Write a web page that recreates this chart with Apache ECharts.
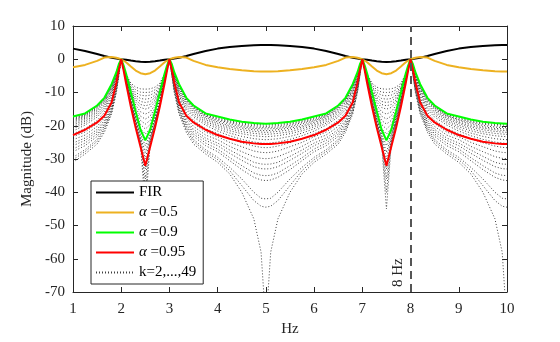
<!DOCTYPE html>
<html>
<head>
<meta charset="utf-8">
<title>Magnitude response</title>
<script src="https://cdn.jsdelivr.net/npm/echarts/dist/echarts.min.js"></script>
<style>
  html, body { margin: 0; padding: 0; background: #fff; }
  #chart { width: 560px; height: 342px; }
</style>
</head>
<body>
<div id="chart"></div>
<script>
// The response repeats every 5 Hz and mirrors about 2.5 Hz,
// so every curve is read on 2.5..5 Hz only and unfolded onto 1..10 Hz.
var baseHz = [2.5, 2.6, 2.7, 2.8, 2.9, 2.95, 3, 3.05, 3.1, 3.2, 3.35, 3.5, 3.75, 4, 4.25, 4.5, 4.75, 4.9, 5];

var firDb  = [-0.8, -0.75, -0.6, -0.4, -0.15, -0.07, 0, 0.1, 0.2, 0.45, 1.0, 1.6, 2.5, 3.2, 3.7, 4.0, 4.2, 4.25, 4.25];
var a05Db  = [-4.5, -4.2, -3.4, -2.2, -0.9, -0.45, 0, 0.25, 0.45, 0.65, 0.5, -0.5, -1.7, -2.4, -2.9, -3.3, -3.6, -3.7, -3.7];
var a09Db  = [-24.4, -21.2, -15.7, -10.0, -4.3, -1.9, 0, -1.5, -3.9, -7.5, -11.6, -13.9, -16.3, -17.2, -18.1, -18.8, -19.2, -19.3, -19.4];
var a095Db = [-32.0, -26.3, -20.6, -14.3, -7.2, -3.4, 0, -3.2, -7.0, -13.0, -17.0, -19.0, -21.2, -22.8, -23.9, -24.8, -25.3, -25.5, -25.5];

// dotted family k=2..49 (a subset of the curves)
var kCurvesDb = [
  [-9.0, -8.9, -8.4, -7.2, -4.4, -2.1, 0, -1.6, -4.0, -7.7, -11.8, -14.1, -16.6, -17.6, -18.5, -19.2, -19.6, -19.7, -19.8],
  [-10, -9.9, -9.2, -7.7, -4.5, -2.1, 0, -1.65, -4.1, -7.8, -11.9, -14.2, -16.7, -17.9, -18.8, -19.5, -20.0, -20.1, -20.2],
  [-11, -10.8, -10.0, -8.2, -4.6, -2.1, 0, -1.7, -4.2, -8.0, -12.1, -14.4, -16.9, -18.2, -19.1, -19.9, -20.4, -20.5, -20.6],
  [-12, -11.8, -10.8, -8.6, -4.7, -2.2, 0, -1.8, -4.4, -8.3, -12.3, -14.6, -17.1, -18.5, -19.5, -20.3, -20.8, -20.9, -21.0],
  [-13, -12.7, -11.5, -9.0, -4.8, -2.2, 0, -1.9, -4.6, -8.6, -12.6, -14.9, -17.4, -18.9, -20.0, -20.7, -21.2, -21.4, -21.5],
  [-14, -13.6, -12.2, -9.4, -4.9, -2.2, 0, -2.0, -4.8, -9.0, -13.0, -15.3, -17.8, -19.3, -20.4, -21.2, -21.7, -21.9, -22.0],
  [-15, -14.5, -12.9, -9.8, -5.0, -2.3, 0, -2.1, -5.0, -9.4, -13.5, -15.7, -18.2, -19.8, -20.9, -21.8, -22.3, -22.5, -22.6],
  [-16.5, -15.8, -13.8, -10.3, -5.1, -2.3, 0, -2.2, -5.3, -9.9, -14.0, -16.2, -18.7, -20.3, -21.5, -22.4, -23.0, -23.2, -23.3],
  [-18, -17.1, -14.7, -10.8, -5.2, -2.4, 0, -2.4, -5.6, -10.4, -14.6, -16.8, -19.2, -20.9, -22.2, -23.2, -23.9, -24.1, -24.2],
  [-19.5, -18.4, -15.5, -11.2, -5.3, -2.4, 0, -2.6, -6.0, -11.0, -15.2, -17.4, -19.8, -21.6, -23.0, -24.1, -24.9, -25.2, -25.3],
  [-21, -19.6, -16.3, -11.6, -5.4, -2.5, 0, -2.9, -6.6, -11.7, -16.0, -18.4, -20.9, -22.4, -23.9, -25.1, -26.1, -26.5, -26.6],
  [-22.5, -20.8, -17.0, -12.0, -5.5, -2.5, 0, -3.2, -7.1, -12.3, -16.8, -19.3, -21.9, -23.3, -25.0, -26.3, -27.6, -28.0, -28.1],
  [-24, -21.8, -17.6, -12.3, -5.7, -2.6, 0, -3.5, -7.6, -13.0, -17.6, -20.2, -22.8, -24.2, -26.2, -27.8, -29.3, -29.8, -29.9],
  [-26, -22.5, -17.8, -12.5, -5.8, -2.7, 0, -3.8, -8.0, -13.6, -18.4, -21.1, -23.7, -25.2, -27.3, -29.2, -31.0, -31.5, -31.6],
  [-28, -23.2, -18.2, -12.8, -6.0, -2.8, 0, -4.0, -8.3, -14.1, -19.0, -21.8, -24.4, -26.0, -28.3, -30.4, -32.3, -32.9, -33.0],
  [-30, -23.8, -18.6, -13.1, -6.2, -2.9, 0, -4.2, -8.6, -14.6, -19.6, -22.5, -25.2, -27.0, -29.6, -32.0, -34.2, -34.9, -35.0],
  [-33, -24.3, -19.0, -13.4, -6.4, -3.0, 0, -4.4, -9.0, -15.1, -20.2, -23.2, -26.0, -27.8, -30.5, -33.2, -35.5, -36.3, -36.5],
  [-36, -24.8, -19.3, -13.6, -6.6, -3.1, 0, -4.6, -9.3, -15.6, -20.8, -24.1, -27.2, -29.5, -32.5, -36.0, -40.0, -41.8, -42.0],
  [-40, -25.2, -19.6, -13.8, -6.8, -3.2, 0, -4.8, -9.6, -16.0, -21.3, -24.7, -27.8, -30.2, -33.5, -38.0, -42.5, -44.2, -44.5],
  [-45, -25.6, -19.9, -14.0, -7.0, -3.3, 0, -5.0, -10.0, -16.5, -22.0, -25.5, -28.5, -31.0, -34.5, -40.0, -48.0, -58.0, -80]
];

var markerHz = 8;
var legendNames = ['FIR', 'α =0.5', 'α =0.9', 'α =0.95', 'k=2,...,49'];

var fontFamily = '"Liberation Serif", "Times New Roman", serif';
var axisColor = '#262626';

// unfold the 2.5..5 Hz segment onto 1..10 Hz
function unfold(vals) {
	var pts = [], n = baseHz.length, i;
	for (i = n - 1; i >= 0; i--) {
		if (5 - baseHz[i] >= 1) pts.push([5 - baseHz[i], vals[i]]);
	}
	for (i = 1; i < n; i++) pts.push([baseHz[i], vals[i]]);
	for (i = n - 2; i >= 0; i--) pts.push([10 - baseHz[i], vals[i]]);
	for (i = 1; i < n; i++) pts.push([5 + baseHz[i], vals[i]]);
	return pts;
}

function curve(name, vals, color, width, type) {
	return {
		name: name,
		type: 'line',
		data: unfold(vals),
		symbol: 'none',
		showSymbol: false,
		smooth: false,
		silent: true,
		lineStyle: { color: color, width: width, type: type || 'solid' },
		itemStyle: { color: color }
	};
}

function axisBase(isX, showLabel) {
	return {
		type: 'value',
		min: isX ? 1 : -70,
		max: isX ? 10 : 10,
		interval: isX ? 1 : 10,
		axisLine: { show: true, onZero: false, lineStyle: { color: axisColor, width: 1 } },
		axisTick: { show: true, inside: true, length: 5, lineStyle: { color: axisColor } },
		axisLabel: { show: showLabel, margin: isX ? 10 : 8, fontFamily: fontFamily, fontSize: 15, color: axisColor },
		splitLine: { show: false }
	};
}

var chart = echarts.init(document.getElementById('chart'), null, { renderer: 'canvas' });

var series = [];
kCurvesDb.forEach(function(vals) {
	series.push(curve('k=2,...,49', vals, '#404040', 1, [1, 2]));
});
series.push(curve('FIR', firDb, '#000000', 2));
series.push(curve('α =0.5', a05Db, '#EDB120', 2));
series.push(curve('α =0.9', a09Db, '#00FF00', 2));
series.push(curve('α =0.95', a095Db, '#FF0000', 2));
// dashed marker line
series.push({
	name: 'marker',
	type: 'line',
	data: [],
	silent: true,
	markLine: {
		silent: true,
		symbol: ['none', 'none'],
		lineStyle: { color: '#555555', width: 2, type: [8, 5] },
		label: {
			show: true,
			formatter: markerHz + ' Hz',
			position: 'insideStartTop',
			distance: 5,
			fontFamily: fontFamily,
			fontSize: 15,
			color: axisColor
		},
		data: [{ xAxis: markerHz }]
	}
});

var xMain = axisBase(true, true);
xMain.name = 'Hz';
xMain.nameLocation = 'middle';
xMain.nameGap = 30;
xMain.nameTextStyle = { fontFamily: fontFamily, fontSize: 15, color: axisColor };
var xTop = axisBase(true, false);
xTop.position = 'top';

var yMain = axisBase(false, true);
yMain.name = 'Magnitude (dB)';
yMain.nameLocation = 'middle';
yMain.nameGap = 31;
yMain.nameTextStyle = { fontFamily: fontFamily, fontSize: 15, color: axisColor };
var yRight = axisBase(false, false);
yRight.position = 'right';

var option = {
	animation: false,
	backgroundColor: '#ffffff',
	grid: { left: 73, right: 53, top: 26, bottom: 48 },
	xAxis: [xMain, xTop],
	yAxis: [yMain, yRight],
	legend: {
		data: legendNames,
		orient: 'vertical',
		left: 91,
		top: 181,
		itemWidth: 38,
		itemHeight: 14,
		itemGap: 5,
		padding: [4, 7, 4, 4],
		backgroundColor: '#ffffff',
		borderColor: axisColor,
		borderWidth: 1,
		borderRadius: 0,
		selectedMode: false,
		// hide the marker symbol, keep only the line sample
		itemStyle: { opacity: 0 },
		textStyle: {
			fontFamily: fontFamily,
			fontSize: 15,
			color: '#000',
			rich: { i: { fontFamily: fontFamily, fontSize: 15, fontStyle: 'italic', color: '#000' } }
		},
		formatter: function(name) {
			return name.replace('α', '{i|α}');
		}
	},
	series: series
};

chart.setOption(option);
</script>
</body>
</html>
